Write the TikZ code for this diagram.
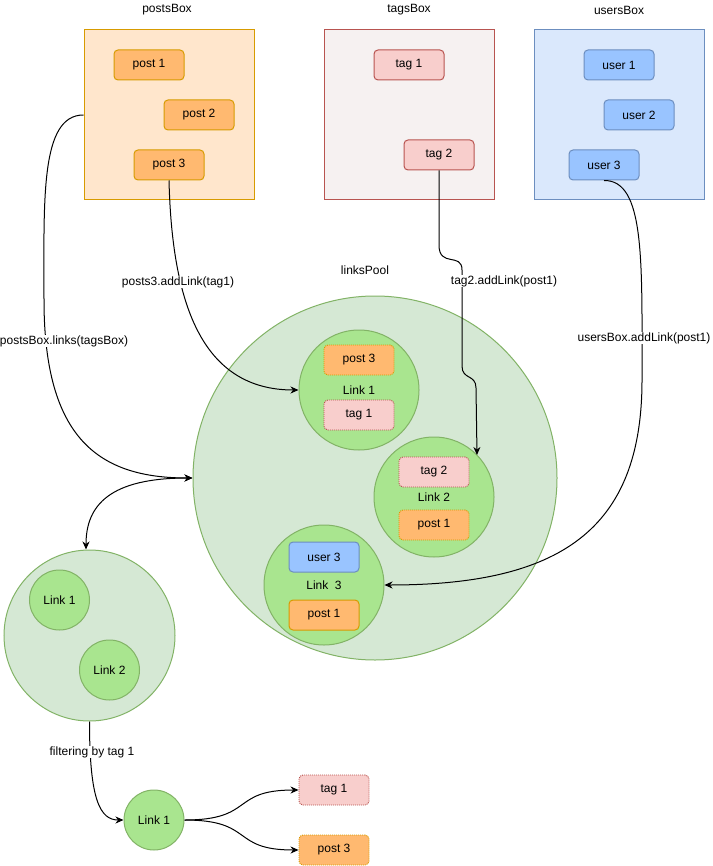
\documentclass[tikz,border=0pt]{standalone}
\usepackage{fontspec}
\setmainfont{Liberation Sans}
\usetikzlibrary{arrows.meta}
\definecolor{postfill}{HTML}{FFE6CC}
\definecolor{poststroke}{HTML}{D79B00}
\definecolor{postin}{HTML}{FFB970}
\definecolor{tagfill}{HTML}{F6F1F1}
\definecolor{tagstroke}{HTML}{B85450}
\definecolor{tagin}{HTML}{F8CECC}
\definecolor{userfill}{HTML}{DAE8FC}
\definecolor{userstroke}{HTML}{6C8EBF}
\definecolor{userin}{HTML}{99C4FF}
\definecolor{poolfill}{HTML}{D5E8D4}
\definecolor{poolstroke}{HTML}{82B366}
\definecolor{linkfill}{HTML}{A9E58F}
\tikzset{
  txt/.style={font=\fontsize{12}{14}\selectfont, inner sep=1pt},
  bigbox/.style={draw, line width=1pt, minimum width=170pt, minimum height=170pt, inner sep=0pt},
  item/.style={txt, draw, line width=1pt, rounded corners=4pt, minimum width=70pt, minimum height=30pt, inner sep=0pt},
  postitem/.style={item, fill=postin, draw=poststroke},
  tagitem/.style={item, fill=tagin, draw=tagstroke},
  useritem/.style={item, fill=userin, draw=userstroke},
  dotitem/.style={dash pattern=on 1pt off 1pt, line width=0.9pt},
  linkc/.style={txt, circle, draw=poolstroke, fill=linkfill, line width=1pt, inner sep=0pt},
  conn/.style={draw, line width=1pt, -{Stealth[length=8pt,width=7pt,inset=2.5pt]}},
  bconn/.style={draw, line width=1pt, {Stealth[length=8pt,width=7pt,inset=2.5pt]}-{Stealth[length=8pt,width=7pt,inset=2.5pt]}},
  elabel/.style={txt, fill=white, inner sep=0.5pt}
}
\begin{document}
\begin{tikzpicture}[x=1pt,y=-1pt]
\useasboundingbox (0,0) rectangle (712,866);
% titles
\node[txt] (tpb) at (167,10) {postsBox};
\node[txt] (ttb) at (409,10) {tagsBox};
\node[txt] (tub) at (619,10) {usersBox};
\node[txt] (tpool) at (365,270) {linksPool};
% boxes
\node[bigbox, fill=postfill, draw=poststroke] (pb) at (169,115) {};
\node[bigbox, fill=tagfill, draw=tagstroke] (tb) at (409,115) {};
\node[bigbox, fill=userfill, draw=userstroke] (ub) at (619,115) {};
\node[postitem] (p1) at (149,65) {post 1};
\node[postitem] (p2) at (199,115) {post 2};
\node[postitem] (p3) at (169,165) {post 3};
\node[tagitem] (t1) at (409,65) {tag 1};
\node[tagitem] (t2) at (439,155) {tag 2};
\node[useritem] (u1) at (619,65) {user 1};
\node[useritem] (u2) at (639,115) {user 2};
\node[useritem] (u3) at (604,165) {user 3};
% pool
\node[circle, draw=poolstroke, fill=poolfill, line width=1pt, minimum size=364pt, inner sep=0pt] (pool) at (375,478) {};
\node[linkc, minimum size=120pt] (lk1) at (359,390) {Link 1};
\node[postitem, dotitem] (lk1p) at (359,360) {post 3};
\node[tagitem, dotitem] (lk1t) at (359,415) {tag 1};
\node[linkc, minimum size=120pt] (lk2) at (434,497) {Link 2};
\node[tagitem, dotitem] (lk2t) at (434,472) {tag 2};
\node[postitem, dotitem] (lk2p) at (434,525) {post 1};
\node[linkc, minimum size=120pt] (lk3) at (324,585) {Link\ \ 3};
\node[useritem] (lk3u) at (324,557) {user 3};
\node[postitem] (lk3p) at (324,615) {post 1};
% left circle
\node[circle, draw=poolstroke, fill=poolfill, line width=1pt, minimum size=171pt, inner sep=0pt] (lc) at (89.5,635.5) {};
\node[linkc, minimum size=60pt] (lcl1) at (59.5,600) {Link 1};
\node[linkc, minimum size=60pt] (lcl2) at (109.5,670) {Link 2};
% result
\node[linkc, minimum size=60pt] (rl) at (154,820) {Link 1};
\node[tagitem, dotitem] (rt) at (334,790) {tag 1};
\node[postitem, dotitem] (rp) at (334,850) {post 3};
% connectors
\draw[conn] (pb.west) .. controls (40,115) and (44,200) .. (44,300) .. controls (44,440) and (100,478) .. (pool.west);
\draw[conn] (p3.south) .. controls (172,300) and (200,390) .. (lk1.west);
\coordinate (c3a) at (462,270);
\coordinate (c3b) at (476,388);
\draw[conn] (t2.south) -- (439,245) .. controls (439,268) and (462,252) .. (c3a) -- (462,366) .. controls (462,380) and (476,374) .. (c3b) -- (477,455);
\draw[conn] (u3.south) .. controls (645,180) and (642,260) .. (642,380) .. controls (642,530) and (560,585) .. (lk3.east);
\draw[bconn] (pool.west) .. controls (110,478) and (86,505) .. (86,549.5);
\draw[conn] (lc.south) .. controls (89.5,800) and (100,820) .. (rl.west);
\draw[conn] (rl.east) .. controls (255,820) and (230,790) .. (rt.west);
\draw[conn] (rl.east) .. controls (255,820) and (230,850) .. (rp.west);
% edge labels
\node[elabel] (e1) at (64,341) {postsBox.links(tagsBox)};
\node[elabel] (e2) at (178,282) {posts3.addLink(tag1)};
\node[elabel] (e3) at (504,281) {tag2.addLink(post1)};
\node[elabel] (e4) at (644,338) {usersBox.addLink(post1)};
\node[elabel] (e6) at (92,752) {filtering by tag 1};
\end{tikzpicture}
\end{document}
